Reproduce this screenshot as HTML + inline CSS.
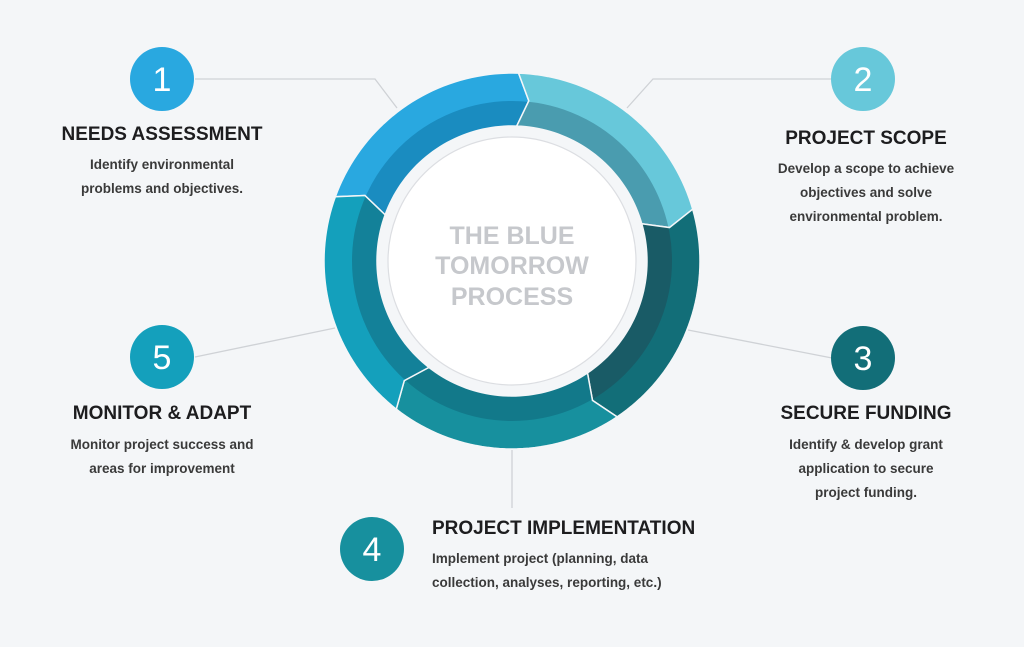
<!DOCTYPE html>
<html><head><meta charset="utf-8"><style>
html,body{margin:0;padding:0;background:#f4f6f8;}
body{width:1024px;height:647px;position:relative;overflow:hidden;font-family:"Liberation Sans",sans-serif;}
.h{position:absolute;font-weight:bold;font-size:19px;color:#1d1d1f;white-space:nowrap;transform:translateX(-50%);}
.b{position:absolute;font-weight:bold;font-size:13.5px;color:#3a3a3a;line-height:24px;text-align:center;white-space:nowrap;transform:translateX(-50%);}
</style></head><body>
<svg width="1024" height="647" style="position:absolute;left:0;top:0">
<g stroke="#cfd2d6" stroke-width="1.3" fill="none">
<polyline points="195,79 375,79 397,108"/>
<polyline points="832,79 653,79 627,108"/>
<line x1="688" y1="330" x2="832" y2="358"/>
<line x1="195" y1="357" x2="335" y2="328"/>
<line x1="512" y1="450" x2="512" y2="508"/>
</g>
<g id="ring"></g>
<circle cx="512" cy="261" r="124" fill="#fff" stroke="#dcdee2" stroke-width="1.2"/>
<g font-family="Liberation Sans, sans-serif" font-weight="bold" font-size="25" fill="#c6c8cc" text-anchor="middle">
<text x="512" y="244">THE BLUE</text>
<text x="512" y="274">TOMORROW</text>
<text x="512" y="305">PROCESS</text>
</g>
<g font-family="Liberation Sans, sans-serif" font-size="34" fill="#fff" text-anchor="middle">
<circle cx="162" cy="79" r="32" fill="#29a8e0"/><text x="162" y="91">1</text>
<circle cx="863" cy="79" r="32" fill="#67c8da"/><text x="863" y="91">2</text>
<circle cx="863" cy="358" r="32" fill="#126e78"/><text x="863" y="370">3</text>
<circle cx="372" cy="549" r="32" fill="#17909e"/><text x="372" y="561">4</text>
<circle cx="162" cy="357" r="32" fill="#14a0bc"/><text x="162" y="369">5</text>
</g>
</svg>
<div class="h" style="left:162px;top:124px">NEEDS ASSESSMENT</div>
<div class="b" style="left:162px;top:153px">Identify environmental<br>problems and objectives.</div>
<div class="h" style="left:866px;top:128px">PROJECT SCOPE</div>
<div class="b" style="left:866px;top:157px">Develop a scope to achieve<br>objectives and solve<br>environmental problem.</div>
<div class="h" style="left:866px;top:403px">SECURE FUNDING</div>
<div class="b" style="left:866px;top:433px">Identify &amp; develop grant<br>application to secure<br>project funding.</div>
<div class="h" style="left:162px;top:403px">MONITOR &amp; ADAPT</div>
<div class="b" style="left:162px;top:433px">Monitor project success and<br>areas for improvement</div>
<div class="h" style="left:432px;top:518px;transform:none">PROJECT IMPLEMENTATION</div>
<div class="b" style="left:432px;top:547px;transform:none;text-align:left">Implement project (planning, data<br>collection, analyses, reporting, etc.)</div>
<script>
(function(){
var cx=512,cy=261,R=188,Rm=161,r=135,tip=4;
var segs=[[200,272,"#29a8e0","#1a8cc0"],[-88,-16,"#67c8da","#4a9caf"],[-16,56,"#126e78","#195b66"],[56,128,"#17909e","#12798a"],[128,200,"#14a0bc","#138199"]];
function p(a,rad){var t=a*Math.PI/180;return (cx+rad*Math.cos(t)).toFixed(2)+","+(cy+rad*Math.sin(t)).toFixed(2);}
function arc(a0,a1,rad,n){var s=[];for(var i=0;i<=n;i++){s.push(p(a0+(a1-a0)*i/n,rad));}return s;}
var g=document.getElementById("ring"),h="";
segs.forEach(function(s,i){
 var a0=s[0],a1=s[1];
 var pts=[].concat(arc(a0,a1,R,40),[p(a1+tip,Rm)],arc(a1,a0,r,40),[p(a0+tip,Rm)]);
 var d="M"+pts.join(" L")+"Z";
 h+='<clipPath id="c'+i+'"><path d="'+d+'"/></clipPath>';
 h+='<path d="'+d+'" fill="'+s[3]+'"/>';
 h+='<g clip-path="url(#c'+i+')"><circle cx="'+cx+'" cy="'+cy+'" r="'+((R+Rm)/2+2)+'" fill="none" stroke="'+s[2]+'" stroke-width="'+(R-Rm+6)+'"/></g>';
 h+='<path d="'+d+'" fill="none" stroke="#f4f6f8" stroke-width="1.5"/>';
});
g.innerHTML=h;
})();
</script>
</body></html>
